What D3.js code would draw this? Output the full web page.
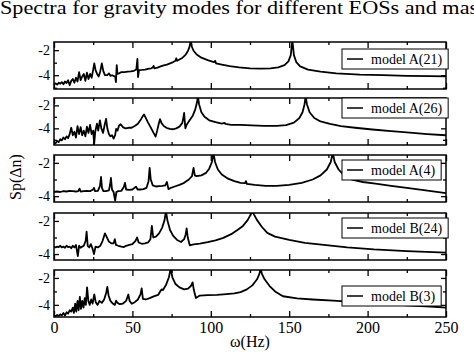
<!DOCTYPE html>
<html>
<head>
<meta charset="utf-8">
<script src="https://cdn.jsdelivr.net/npm/d3@7"></script>
<style>
  body { margin: 0; background: #fff; }
  text { font-family: "Liberation Serif", "DejaVu Serif", serif; fill: #000; }
</style>
</head>
<body>
<svg id="chart"></svg>
<script>
// legend names, one per panel (top to bottom)
const modelNames = ["model A(21)", "model A(26)", "model A(4)", "model B(24)", "model B(3)"];

// y range shown in each panel (log spectrum)
const yDomains = [[-5.1, -1.35], [-5.45, -1.36], [-4.35, -1.53], [-4.36, -1.52], [-4.9, -1.41]];

const xTickValues = [0, 50, 100, 150, 200, 250];
const xMinorValues = [25, 75, 125, 175, 225];
const yTickValues = [-2, -4];
const yMinorValues = [-3, -5];

// spectra: [frequency Hz, Sp]
const spectrumA21 = [[0,-4.7],[1,-4.65],[2,-4.75],[3,-4.6],[4,-4.68],[5,-4.55],[6,-4.72],[7,-4.5],[8,-4.62],[9,-4.4],[10,-4.8],[11,-4.45],[12,-4.3],[13,-4.6],[14,-4.2],[15,-4.5],[16,-3.75],[17,-4.4],[18,-4.1],[19,-3.9],[20,-4.45],[21,-3.8],[22,-4.3],[23,-3.9],[24,-4.2],[25,-3.55],[25.7,-3.05],[26.5,-3.6],[27.5,-3.9],[28.5,-4.1],[29.5,-3.7],[30.5,-3.05],[31.5,-3.7],[32.5,-4.0],[34,-4.0],[35,-3.85],[36,-4.05],[37,-4.0],[38,-4.05],[39,-4.1],[39.5,-4.55],[40,-3.2],[40.5,-3.9],[41.5,-3.85],[43,-3.75],[45,-3.75],[47,-3.72],[49,-3.7],[51,-3.65],[52.5,-3.55],[53.2,-2.7],[53.6,-4.15],[54.2,-3.6],[56,-3.58],[58,-3.55],[60,-3.5],[62,-3.45],[63,-3.38],[63.5,-3.25],[64,-3.45],[66,-3.4],[68,-3.3],[70,-3.22],[72,-3.15],[74,-3.05],[76,-2.95],[77.5,-2.85],[78,-2.65],[78.5,-2.85],[80,-2.75],[82,-2.6],[84,-2.35],[85.5,-2.05],[86.5,-1.7],[87.2,-1.2],[88,-1.75],[89,-2.05],[91,-2.35],[94,-2.6],[98,-2.8],[102,-2.95],[102.8,-2.85],[103.3,-3.05],[107,-3.15],[112,-3.28],[118,-3.38],[125,-3.45],[132,-3.48],[138,-3.45],[143,-3.38],[147,-3.2],[149.5,-2.9],[151,-2.4],[152,-1.2],[153,-2.4],[154.5,-2.95],[157,-3.3],[162,-3.55],[170,-3.72],[180,-3.85],[195,-3.95],[210,-4.0],[225,-4.05],[240,-4.08],[250,-4.1]];

const spectrumA26 = [[0,-5.35],[1,-5.3],[2,-5.1],[3,-5.2],[4,-4.95],[5,-5.05],[6,-4.8],[7,-4.95],[8,-4.7],[9,-4.85],[10,-4.5],[11,-3.95],[12,-4.6],[13,-4.3],[14,-4.8],[15,-3.8],[16,-4.5],[17,-3.9],[18,-4.6],[19,-4.2],[20,-4.7],[21,-3.85],[22,-4.4],[23,-3.7],[24,-4.5],[25,-4.2],[25.6,-5.4],[26.3,-4.3],[27.4,-3.6],[28.2,-4.2],[29.3,-3.3],[30.2,-4.0],[31.3,-4.4],[32.3,-3.7],[33.2,-3.18],[34,-4.0],[35,-4.5],[36,-4.7],[37,-4.6],[38,-4.9],[39,-4.6],[39.6,-4.05],[40.5,-4.2],[41.5,-3.75],[42.5,-3.65],[44,-3.9],[45.5,-4.0],[47.5,-3.95],[49.5,-3.95],[51.5,-3.8],[53.5,-3.6],[55.5,-3.2],[56.8,-2.9],[57.4,-2.8],[58.2,-3.0],[60,-3.5],[62,-4.0],[63.5,-4.4],[64.8,-4.72],[65.8,-4.2],[66.8,-3.6],[67.6,-3.2],[68.6,-3.55],[70,-3.8],[72,-3.98],[74,-4.05],[76,-4.08],[78,-4.0],[80,-3.85],[81.8,-3.55],[82.6,-3.0],[83,-2.65],[83.4,-3.4],[83.8,-4.0],[84.5,-3.7],[86.5,-3.3],[88.5,-2.9],[90,-2.4],[91.1,-1.8],[91.8,-1.2],[92.5,-1.9],[94,-2.6],[96,-3.0],[99,-3.3],[103,-3.45],[107,-3.58],[108.8,-3.52],[109.3,-3.62],[113,-3.7],[119,-3.7],[126,-3.74],[134,-3.78],[142,-3.78],[148,-3.72],[153,-3.5],[156.5,-3.1],[158.5,-2.6],[159.8,-1.9],[160.5,-1.2],[161.3,-1.9],[163,-2.6],[166,-3.1],[170,-3.4],[176,-3.62],[183,-3.8],[192,-3.95],[203,-4.1],[215,-4.25],[227,-4.38],[238,-4.5],[250,-4.6]];

const spectrumA4 = [[0,-3.75],[2,-3.72],[4,-3.75],[6,-3.7],[8,-3.72],[10,-3.68],[12,-3.7],[14,-3.72],[15.5,-3.7],[16.3,-3.55],[17,-3.72],[19,-3.7],[21,-3.68],[23,-3.7],[25,-3.6],[25.5,-3.5],[26.2,-3.7],[28,-3.68],[29.3,-3.4],[30,-2.85],[30.6,-3.5],[31.5,-3.7],[33,-3.7],[35,-3.65],[35.8,-3.3],[36.3,-2.9],[37,-3.6],[38,-3.75],[39,-4.27],[39.8,-3.75],[41,-3.7],[43,-3.68],[44.5,-3.45],[45.3,-3.2],[46,-3.6],[48,-3.62],[50,-3.6],[52.3,-3.43],[53.3,-3.6],[55,-3.6],[57,-3.58],[59,-3.5],[60.3,-3.1],[61,-2.3],[61.7,-3.0],[63,-3.35],[65,-3.42],[67,-3.4],[69,-3.38],[71,-3.35],[72,-3.15],[73,-3.58],[74.5,-3.5],[77,-3.42],[80,-3.32],[83,-3.2],[86,-3.0],[88,-2.8],[89,-2.3],[89.8,-2.75],[91,-2.8],[94,-2.75],[97,-2.6],[99,-2.35],[100.7,-1.95],[101.7,-1.4],[102.7,-1.95],[104.5,-2.4],[107,-2.7],[111,-2.95],[115,-3.1],[119,-3.2],[121.8,-3.22],[122.4,-3.1],[123,-3.26],[128,-3.32],[135,-3.38],[142,-3.38],[150,-3.32],[158,-3.2],[165,-3.0],[170,-2.75],[174,-2.4],[176.5,-1.95],[177.8,-1.4],[179,-1.95],[181.5,-2.4],[185,-2.75],[190,-3.0],[197,-3.15],[205,-3.25],[215,-3.38],[225,-3.5],[237,-3.65],[250,-3.82]];

const spectrumB24 = [[0,-3.56],[1,-3.6],[2,-3.55],[3,-3.58],[4,-3.5],[5,-3.6],[6,-3.55],[7,-3.62],[8,-3.5],[9,-3.58],[10,-3.55],[11,-3.65],[12,-3.5],[13,-3.6],[14,-3.45],[15.2,-4.12],[16,-3.5],[17,-3.62],[18,-3.55],[19,-3.5],[20.2,-3.2],[20.8,-2.65],[21.5,-3.5],[22.5,-3.6],[23.5,-3.4],[24.5,-3.65],[25.5,-4.0],[26.5,-3.55],[28,-3.6],[29.5,-3.5],[31,-3.2],[32.5,-2.75],[33.5,-2.95],[35,-3.25],[36.5,-3.35],[38,-3.35],[38.8,-3.1],[39.5,-3.45],[41,-3.5],[43,-3.55],[44.6,-3.58],[46,-3.5],[48,-3.45],[50,-3.4],[52,-3.2],[53,-3.0],[54,-3.3],[56,-3.38],[58,-3.35],[60,-3.3],[61.5,-3.1],[62.4,-2.3],[63.3,-3.0],[65,-2.95],[67,-2.75],[69,-2.4],[70.5,-1.95],[71.4,-1.4],[72.3,-1.95],[74,-2.55],[76,-2.9],[78.5,-3.15],[81,-3.27],[83,-3.1],[84,-2.8],[84.6,-2.45],[85.3,-3.0],[86.6,-3.47],[89,-3.42],[93,-3.37],[98,-3.28],[103,-3.17],[108,-3.02],[113,-2.8],[117,-2.55],[120.5,-2.3],[123.5,-1.95],[125.5,-1.6],[126.5,-1.4],[127.5,-1.6],[129.5,-1.95],[132.5,-2.35],[136,-2.72],[141,-2.95],[150,-3.15],[160,-3.32],[172,-3.45],[187,-3.6],[204,-3.72],[225,-3.82],[250,-3.92]];

const spectrumB3 = [[0,-4.8],[1,-4.85],[2,-4.75],[3,-4.82],[4,-4.7],[5,-4.78],[6,-4.6],[7,-4.8],[8,-4.55],[9,-4.65],[10,-4.4],[11,-4.5],[12,-4.2],[12.7,-4.6],[13.5,-3.9],[14.2,-4.5],[15,-3.7],[15.7,-4.4],[16.5,-3.4],[17.2,-4.3],[18,-3.7],[18.8,-4.2],[19.6,-3.5],[20.3,-4.0],[21.1,-2.7],[21.9,-3.7],[22.8,-4.0],[23.7,-3.6],[24.6,-3.9],[25.7,-3.23],[26.6,-3.8],[27.8,-4.0],[29,-3.7],[30.5,-3.85],[32,-3.6],[33.3,-3.1],[34,-2.67],[34.8,-3.3],[36,-3.7],[37.5,-3.9],[38.8,-4.0],[39.6,-3.69],[40.5,-3.85],[42,-3.95],[44,-3.9],[46,-3.7],[47.4,-3.23],[48.2,-3.7],[49.6,-3.92],[51.5,-3.8],[53.5,-3.6],[55.2,-3.2],[55.9,-2.77],[56.7,-3.55],[58.5,-3.6],[61,-3.5],[64,-3.35],[66.5,-3.25],[68,-2.95],[68.6,-2.85],[69.5,-2.9],[71.5,-2.5],[73.3,-1.95],[74.4,-1.3],[75.5,-1.95],[77.5,-2.45],[80,-2.7],[83,-2.85],[85.5,-2.8],[87.3,-2.6],[88.4,-2.33],[89.2,-2.9],[90.5,-3.49],[93,-3.31],[98,-3.28],[104,-3.25],[110,-3.2],[115,-3.15],[119,-3.05],[123,-2.85],[126.5,-2.55],[129.5,-2.1],[131,-1.7],[131.8,-1.3],[132.6,-1.7],[134.3,-2.1],[137.5,-2.6],[141,-3.0],[146,-3.36],[155,-3.52],[165,-3.6],[178,-3.69],[195,-3.82],[210,-3.93],[225,-4.03],[240,-4.12],[250,-4.2]];

const spectra = [spectrumA21, spectrumA26, spectrumA4, spectrumB24, spectrumB3];

var size = { width: 474, height: 352 };
var panelTops = [42, 98, 155, 213, 270];
var panelHeight = 47;
var legendOffsets = [7, 0, 5, 5, 16];

var svg = d3.select("#chart")
    .attr("width", size.width)
    .attr("height", size.height);

var x = d3.scaleLinear().domain([0, 250]).range([54, 446]);

// title is wider than the picture and runs off the right edge, as in the original
svg.append("text")
    .attr("transform", "translate(0,14) scale(1.17,1)")
    .attr("font-size", 19)
    .text("Spectra for gravity modes for different EOSs and masses");

spectra.forEach(function(series, i) {
    var top = panelTops[i];
    var y = d3.scaleLinear().domain(yDomains[i]).range([top + panelHeight, top]);
    var g = svg.append("g");

    g.append("clipPath").attr("id", "clip" + i)
        .append("rect")
        .attr("x", x(0)).attr("y", top)
        .attr("width", x(250) - x(0)).attr("height", panelHeight);

    var line = d3.line().x(d => x(d[0])).y(d => y(d[1]));
    g.append("path")
        .datum(series)
        .attr("clip-path", "url(#clip" + i + ")")
        .attr("d", line)
        .attr("fill", "none")
        .attr("stroke", "black")
        .attr("stroke-width", 1.8)
        .attr("stroke-linejoin", "round");

    // ticks pointing inward on all four sides
    var isLast = i === spectra.length - 1;
    var bottomAxis = d3.axisBottom(x).tickValues(xTickValues).tickSize(-6).tickPadding(5)
        .tickFormat(isLast ? d3.format("d") : "");
    var bottom = g.append("g").attr("transform", "translate(0," + (top + panelHeight) + ")").call(bottomAxis);
    bottom.append("g").call(d3.axisBottom(x).tickValues(xMinorValues).tickSize(-3).tickFormat(""));
    var topAx = g.append("g").attr("transform", "translate(0," + top + ")")
        .call(d3.axisTop(x).tickValues(xTickValues).tickSize(-6).tickFormat(""));
    topAx.append("g").call(d3.axisTop(x).tickValues(xMinorValues).tickSize(-3).tickFormat(""));

    var minors = yMinorValues.filter(v => v > yDomains[i][0] && v < yDomains[i][1]);
    var left = g.append("g").attr("transform", "translate(" + x(0) + ",0)")
        .call(d3.axisLeft(y).tickValues(yTickValues).tickSize(-5).tickPadding(4).tickFormat(d => String(d)));
    left.append("g").call(d3.axisLeft(y).tickValues(minors).tickSize(-3).tickFormat(""));
    var right = g.append("g").attr("transform", "translate(" + x(250) + ",0)")
        .call(d3.axisRight(y).tickValues(yTickValues).tickSize(-5).tickFormat(""));
    right.append("g").call(d3.axisRight(y).tickValues(minors).tickSize(-3).tickFormat(""));

    g.selectAll(".domain").remove();
    g.selectAll(".tick line").attr("stroke", "black").attr("stroke-width", 1.3);
    left.selectAll("text").attr("font-size", 14).attr("font-family", "Liberation Serif");
    bottom.selectAll("text").attr("font-size", 16).attr("font-family", "Liberation Serif");

    g.append("rect")
        .attr("x", x(0)).attr("y", top)
        .attr("width", x(250) - x(0)).attr("height", panelHeight)
        .attr("fill", "none")
        .attr("stroke", "black")
        .attr("stroke-width", 1.5);

    // legend box
    var lg = g.append("g").attr("transform", "translate(342," + (top + legendOffsets[i]) + ")");
    var label = lg.append("text")
        .attr("x", 29).attr("y", 15)
        .attr("font-size", 14)
        .text(modelNames[i]);
    var w = label.node().getComputedTextLength();
    lg.insert("rect", "text")
        .attr("x", 0).attr("y", 0)
        .attr("width", w + 35).attr("height", 20)
        .attr("fill", "white")
        .attr("stroke", "black")
        .attr("stroke-width", 1);
    lg.append("line")
        .attr("x1", 5).attr("x2", 21).attr("y1", 10).attr("y2", 10)
        .attr("stroke", "black").attr("stroke-width", 1.5);
});

svg.append("text")
    .attr("transform", "translate(21,177) rotate(-90)")
    .attr("text-anchor", "middle")
    .attr("font-size", 16)
    .text("Sp(Δn)");

svg.append("text")
    .attr("x", x(125))
    .attr("y", 347)
    .attr("text-anchor", "middle")
    .attr("font-size", 16)
    .text("ω(Hz)");
</script>
</body>
</html>
